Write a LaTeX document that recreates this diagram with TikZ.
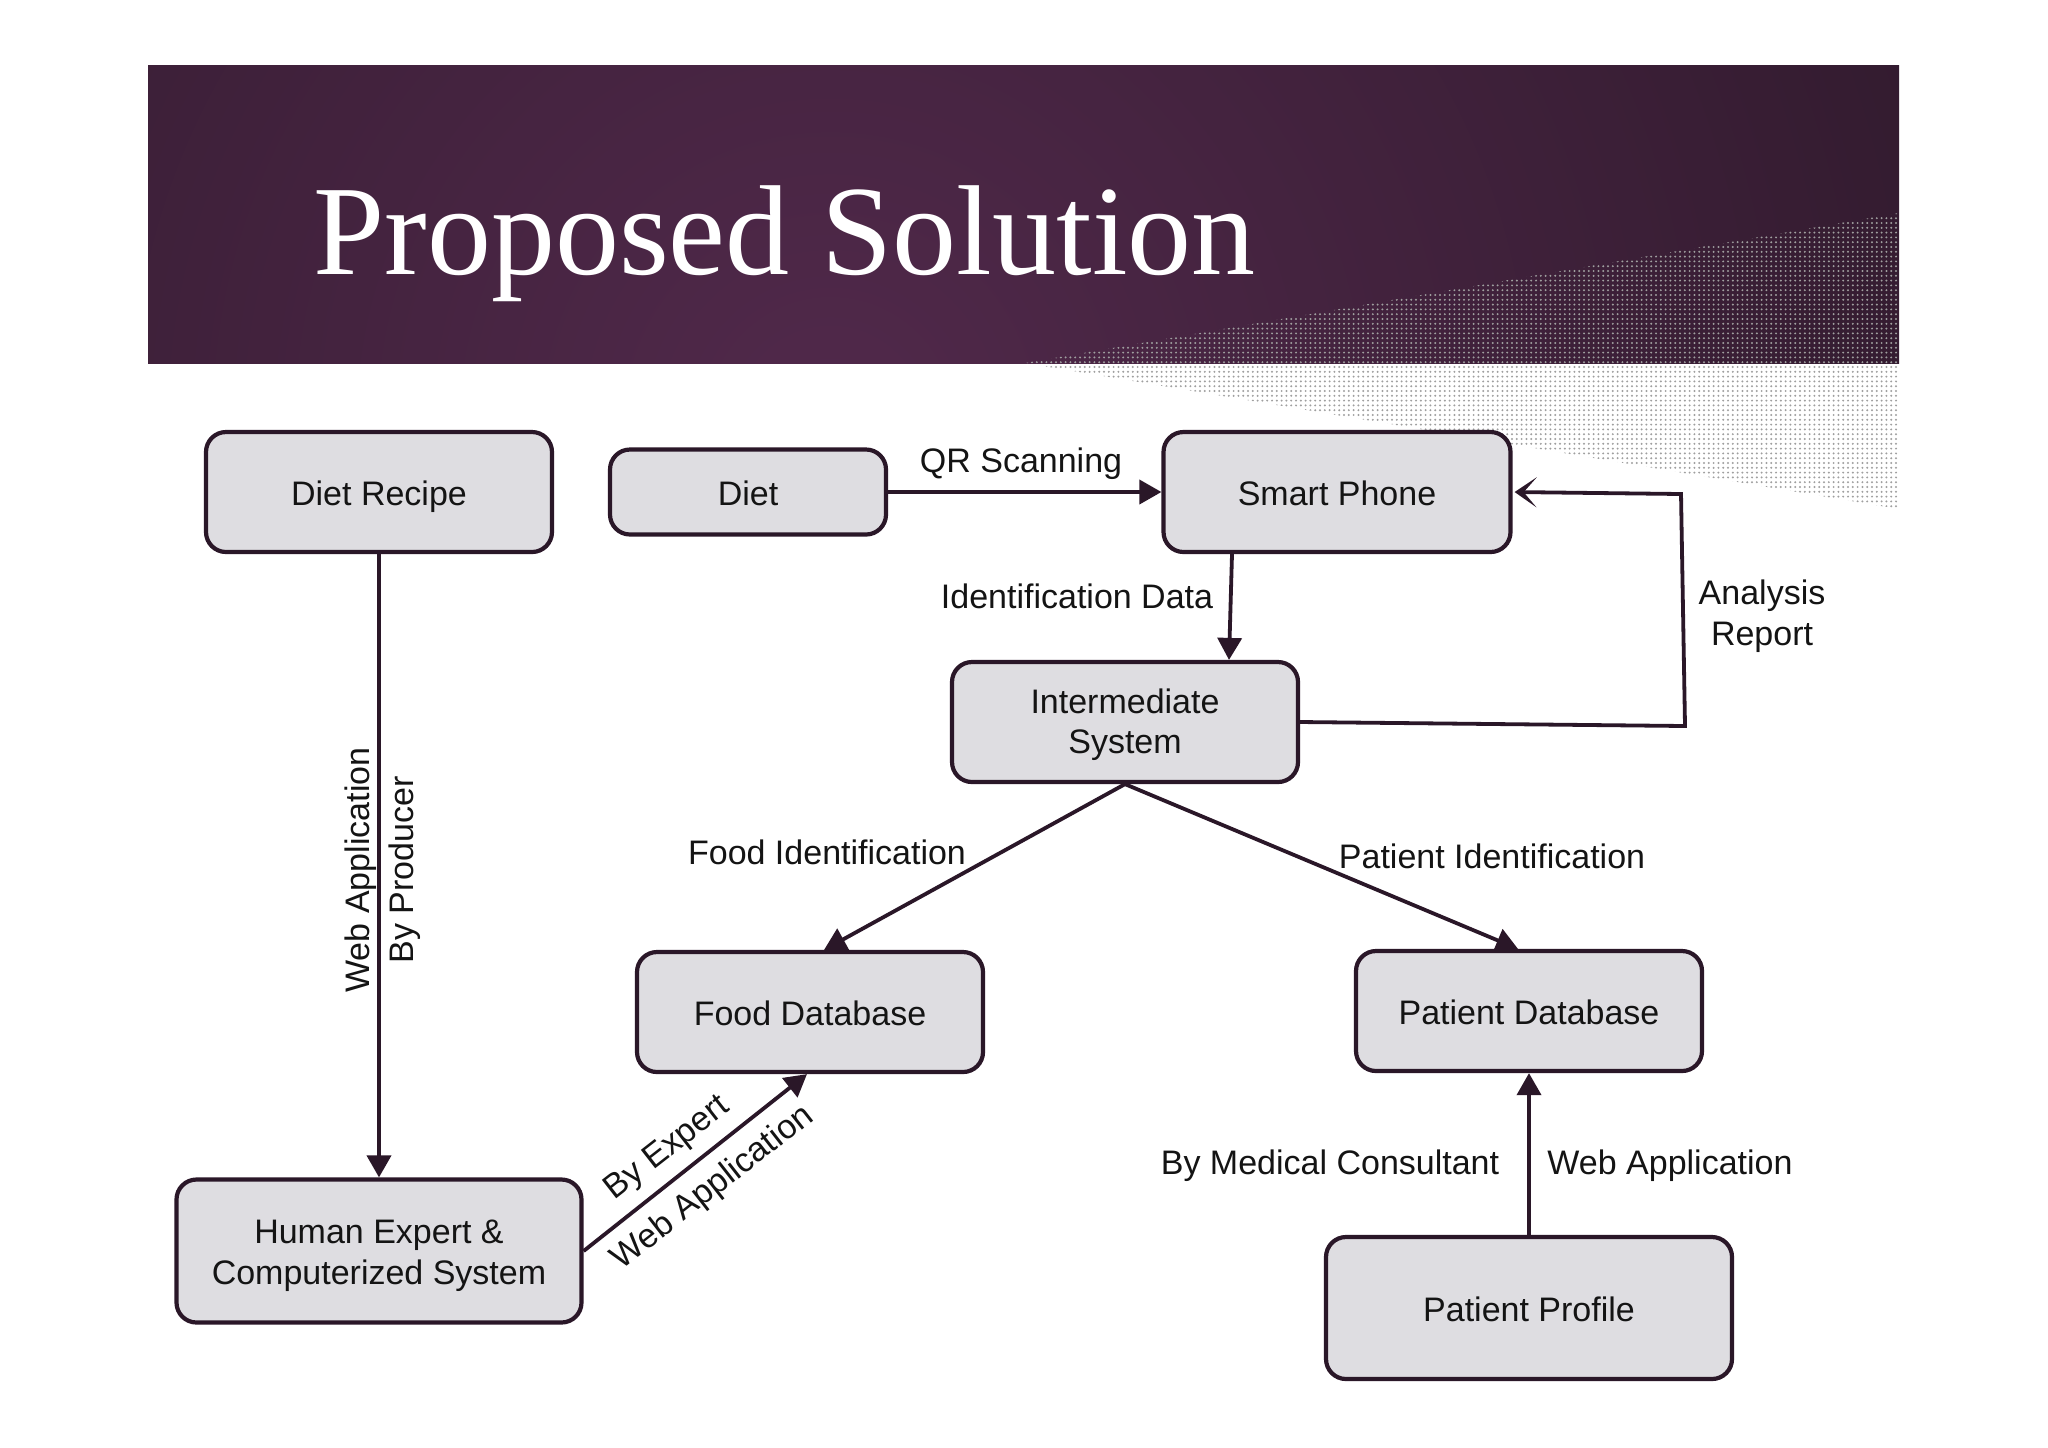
\documentclass[tikz,border=0pt]{standalone}
\usepackage{fontspec}
\setmainfont{Liberation Sans}
\newfontfamily\titlefont{Liberation Serif}
\usetikzlibrary{arrows.meta,calc,patterns.meta}
\definecolor{lc}{HTML}{2A1728}
\definecolor{bf}{HTML}{DEDDE1}
\definecolor{bandA}{HTML}{2C1829}
\definecolor{bandB}{HTML}{51294B}
\definecolor{tc}{HTML}{141414}
% one-line and two-line box texts, placed by baseline offset from the box centre
\newcommand\oneln[1]{\raisebox{-6.5pt}[0pt][0pt]{#1}}
\newcommand\twoln[4]{\makebox[0pt]{\raisebox{#3}[0pt][0pt]{#1}}\makebox[0pt]{\raisebox{#4}[0pt][0pt]{#2}}}
\begin{document}
\begin{tikzpicture}[x=0.5pt,y=-0.5pt,
  box/.style={draw=lc, line width=2.1pt, fill=bf, rounded corners=10pt, text=tc,
    font=\fontsize{17pt}{20.5pt}\selectfont, inner sep=0pt},
  lbl/.style={text=tc, font=\fontsize{17pt}{20.5pt}\selectfont, align=center, inner sep=1pt},
  arr/.style={draw=lc, line width=1.9pt, -{Triangle[length=11pt,width=12pt]}},
  arrb/.style={draw=lc, line width=1.9pt, -{Stealth[length=11pt,width=15pt,inset=6.5pt]}}]
% page
\useasboundingbox (0,0) rectangle (2048,1447);
\fill[white] (0,0) rectangle (2048,1447);
% header band
\begin{scope}
  \clip (148,65) rectangle (1899,363);
  \fill[bandA] (148,65) rectangle (1899,363);
  \shade[inner color=bandB, outer color=bandA] (830,420) circle (1400);
\end{scope}
\fill[pattern={Dots[distance=2.4pt,radius=0.55pt]}, pattern color=gray!75]
  (1025,363) -- (1899,213) -- (1899,509) -- cycle;
\node[anchor=base west, inner sep=0pt, text=white, font=\titlefont\fontsize{64pt}{70pt}\selectfont] (title) at (313,274) {Proposed Solution};
% nodes
\node[box, minimum width=173pt, minimum height=60pt] (dr) at (379,492) {\oneln{Diet Recipe}};
\node[box, minimum width=138pt, minimum height=42.5pt] (diet) at (748,492) {\oneln{Diet}};
\node[box, minimum width=173.5pt, minimum height=60pt] (sp) at (1337,492) {\oneln{Smart Phone}};
\node[box, minimum width=173pt, minimum height=60pt] (im) at (1125,722) {\twoln{Intermediate}{System}{4.25pt}{-15.75pt}};
\node[box, minimum width=173pt, minimum height=60pt] (fd) at (810,1012) {\oneln{Food Database}};
\node[box, minimum width=173pt, minimum height=60pt] (pd) at (1529,1011) {\oneln{Patient Database}};
\node[box, minimum width=202.5pt, minimum height=71.5pt] (he) at (379,1251) {\twoln{Human Expert \&}{Computerized System}{3.75pt}{-16.75pt}};
\node[box, minimum width=203pt, minimum height=71pt] (pp) at (1529,1308) {\oneln{Patient Profile}};
% connectors
\draw[arr] (diet.east) -- (sp.west);
\draw[arr] ($(sp.south)+(-105,0)$) -- ($(im.north)+(104,0)$);
\coordinate (c1) at (1685,726);
\coordinate (c2) at (1681,494);
\draw[arrb, shorten >=1pt] (im.east) -- (c1) -- (c2) -- (sp.east);
\draw[arr] (im.south) -- ($(fd.north)+(14,0)$);
\draw[arr] (im.south) -- ($(pd.north)+(-11,0)$);
\draw[arr] (dr.south) -- (he.north);
\draw[arr] (he.east) -- ($(fd.south)+(-3,0)$);
\draw[arr] (pp.north) -- (pd.south);
% labels
\node[lbl, yshift=-2pt] (l1) at (1021,460) {QR Scanning};
\node[lbl] (l2) at (1077,596) {Identification Data};
\node[lbl, yshift=-1.5pt] (l3) at (1762,613) {Analysis\\Report};
\node[lbl] (l4) at (827,852) {Food Identification};
\node[lbl] (l5) at (1492,856) {Patient Identification};
\node[lbl, rotate=90] (l6) at (361,870) {Web Application};
\node[lbl, rotate=90] (l7) at (405,870) {By Producer};
\node[lbl, rotate=38] (l8) at (668,1149) {By Expert};
\node[lbl, rotate=38] (l9) at (713,1188) {Web Application};
\node[lbl, yshift=-2pt] (l10) at (1330,1162) {By Medical Consultant};
\node[lbl, yshift=-2pt] (l11) at (1670,1162) {Web Application};
\end{tikzpicture}
\end{document}
